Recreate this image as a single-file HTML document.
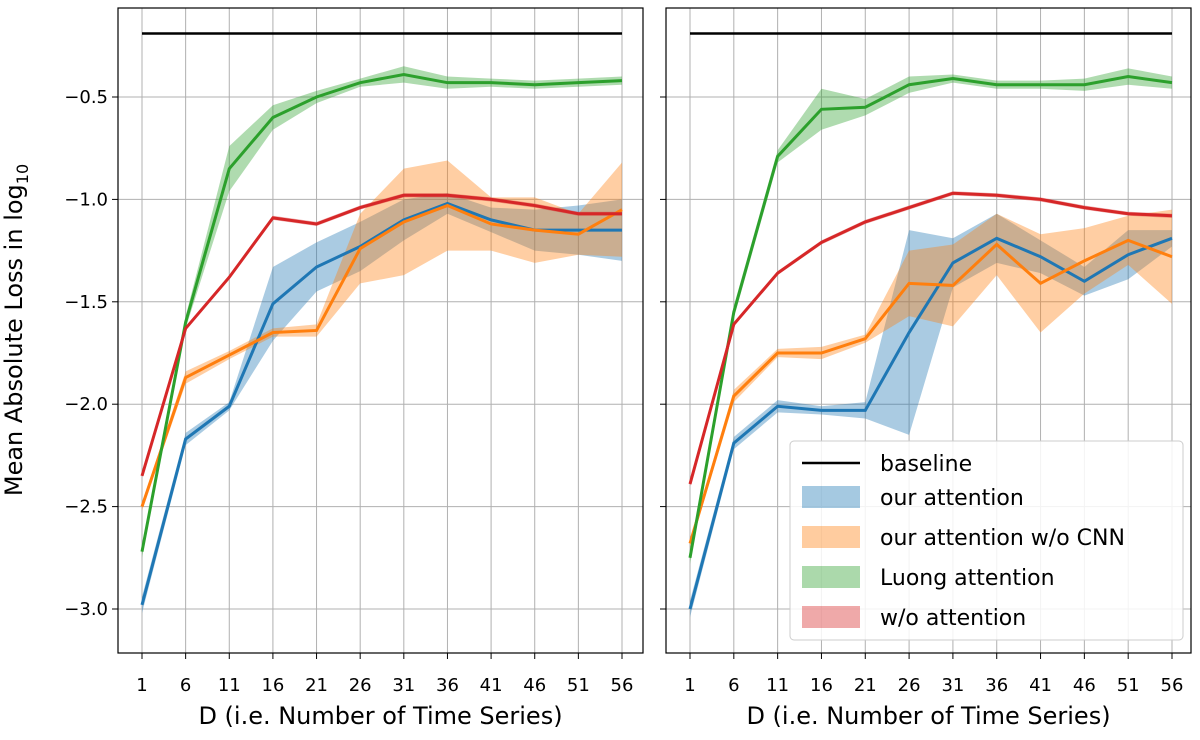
<!DOCTYPE html>
<html><head><meta charset="utf-8"><style>
body{margin:0;background:#fff}
svg{font-family:"DejaVu Sans","Liberation Sans",sans-serif}
</style></head><body>
<svg id="c" width="1200" height="735"></svg>
<script>
const xCats=[1,6,11,16,21,26,31,36,41,46,51,56];
const yTicks=[-0.5,-1.0,-1.5,-2.0,-2.5,-3.0];
const yTickLabels=["\u22120.5","\u22121.0","\u22121.5","\u22122.0","\u22122.5","\u22123.0"];
const baselineVal=-0.19;
const L_green=[-2.72,-1.6,-0.85,-0.6,-0.5,-0.43,-0.39,-0.43,-0.43,-0.44,-0.43,-0.42];
const L_greenS=[0.03,0.03,0.11,0.06,0.03,0.02,0.04,0.03,0.02,0.02,0.02,0.02];
const L_red=[-2.35,-1.63,-1.38,-1.09,-1.12,-1.04,-0.98,-0.98,-1.0,-1.03,-1.07,-1.07];
const L_redS=[0.01,0.01,0.01,0.01,0.01,0.01,0.01,0.01,0.01,0.01,0.01,0.01];
const L_blue=[-2.98,-2.17,-2.01,-1.51,-1.33,-1.23,-1.10,-1.02,-1.10,-1.15,-1.15,-1.15];
const L_blueS=[0.04,0.03,0.02,0.18,0.12,0.12,0.1,0.05,0.06,0.1,0.12,0.15];
const L_orange=[-2.5,-1.87,-1.76,-1.65,-1.64,-1.24,-1.11,-1.03,-1.12,-1.15,-1.17,-1.05];
const L_orangeS=[0.02,0.03,0.02,0.02,0.03,0.17,0.26,0.22,0.13,0.16,0.1,0.23];
const R_green=[-2.75,-1.55,-0.79,-0.56,-0.55,-0.44,-0.41,-0.44,-0.44,-0.44,-0.40,-0.43];
const R_greenS=[0.03,0.03,0.03,0.1,0.04,0.04,0.02,0.02,0.02,0.03,0.04,0.03];
const R_red=[-2.39,-1.61,-1.36,-1.21,-1.11,-1.04,-0.97,-0.98,-1.0,-1.04,-1.07,-1.08];
const R_redS=[0.01,0.01,0.01,0.01,0.01,0.01,0.01,0.01,0.01,0.01,0.01,0.01];
const R_blue=[-3.0,-2.19,-2.01,-2.03,-2.03,-1.65,-1.31,-1.19,-1.28,-1.4,-1.27,-1.19];
const R_blueS=[0.04,0.03,0.03,0.02,0.04,0.5,0.12,0.12,0.08,0.07,0.12,0.04];
const R_orange=[-2.68,-1.96,-1.75,-1.75,-1.68,-1.41,-1.42,-1.22,-1.41,-1.3,-1.2,-1.28];
const R_orangeS=[0.02,0.03,0.02,0.03,0.02,0.16,0.2,0.15,0.24,0.16,0.12,0.23];
const colors={blue:"#1f77b4",orange:"#ff7f0e",green:"#2ca02c",red:"#d62728"};
const NS="http://www.w3.org/2000/svg";
const svg=document.getElementById("c");
function mk(t,a,p){const e=document.createElementNS(NS,t);for(const k in a)e.setAttribute(k,a[k]);(p||svg).appendChild(e);return e;}
const yS=v=>97+(-0.5-v)*204.8;
function panel(x0,x1,px1,px56,series,name,showY){
  const g=mk("g",{});
  
  
  const xS=v=>px1+(v-1)*(px56-px1)/55;
  for(const c of xCats){const l=mk("line",{x1:xS(c),x2:xS(c),y1:8,y2:653,stroke:"#b0b0b0","stroke-width":1},g);}
  yTicks.forEach((v,i)=>{const l=mk("line",{x1:x0,x2:x1,y1:yS(v),y2:yS(v),stroke:"#b0b0b0","stroke-width":1},g);
    mk("line",{x1:x0-6,x2:x0,y1:yS(v),y2:yS(v),stroke:"#000"},g);
    if(showY){const t=mk("text",{x:x0-10,y:yS(v)+6,"text-anchor":"end","font-size":18},g);t.textContent=yTickLabels[i];}});
  for(const c of xCats){mk("line",{x1:xS(c),x2:xS(c),y1:653,y2:659,stroke:"#000"},g);
    const t=mk("text",{x:xS(c),y:691,"text-anchor":"middle","font-size":18},g);t.textContent=c;}
  const b=mk("line",{x1:xS(1),x2:xS(56),y1:yS(baselineVal),y2:yS(baselineVal),stroke:"#000","stroke-width":2.5},g);
  
  for(const [key,vals,sp] of series){
    const up=vals.map((v,i)=>xS(xCats[i])+","+yS(v+sp[i]));
    const lo=vals.map((v,i)=>xS(xCats[i])+","+yS(v-sp[i])).reverse();
    const band=mk("polygon",{points:up.concat(lo).join(" "),fill:colors[key],opacity:0.38},g);
    
  }
  for(const [key,vals] of series){
    const ln=mk("polyline",{points:vals.map((v,i)=>xS(xCats[i])+","+yS(v)).join(" "),fill:"none",stroke:colors[key],"stroke-width":3},g);
    
  }
  const fr=mk("rect",{x:x0,y:8,width:x1-x0,height:645,fill:"none",stroke:"#000","stroke-width":1.2},g);
  
  const xl=mk("text",{x:(x0+x1)/2,y:724,"text-anchor":"middle","font-size":24},g);xl.textContent="D (i.e. Number of Time Series)";
  
}
panel(118,643,142,622,[["blue",L_blue,L_blueS],["orange",L_orange,L_orangeS],["green",L_green,L_greenS],["red",L_red,L_redS]],"left-panel",true);
panel(666,1191,690,1172,[["blue",R_blue,R_blueS],["orange",R_orange,R_orangeS],["green",R_green,R_greenS],["red",R_red,R_redS]],"right-panel",false);
const yl=mk("text",{x:0,y:0,"text-anchor":"middle","font-size":24,transform:"translate(22,330) rotate(-90)"});
yl.innerHTML='Mean Absolute Loss in log<tspan font-size="16" dy="6">10</tspan>';

const lg=mk("g",{});

mk("rect",{x:790,y:441,width:393,height:199,rx:4,fill:"#fff","fill-opacity":0.85,stroke:"#ccc"},lg);
mk("line",{x1:802,x2:860,y1:463,y2:463,stroke:"#000","stroke-width":2.5},lg);
const lt0=mk("text",{x:880,y:471,"font-size":22},lg);lt0.textContent="baseline";

[["blue","our attention",497],["orange","our attention w/o CNN",537],["green","Luong attention",577],["red","w/o attention",617]].forEach(([k,t,y])=>{
  mk("rect",{x:802,y:y-11,width:58,height:22,fill:colors[k],opacity:0.4},lg);
  const tx=mk("text",{x:880,y:y+8,"font-size":22},lg);tx.textContent=t;
  
});
</script>
</body></html>
